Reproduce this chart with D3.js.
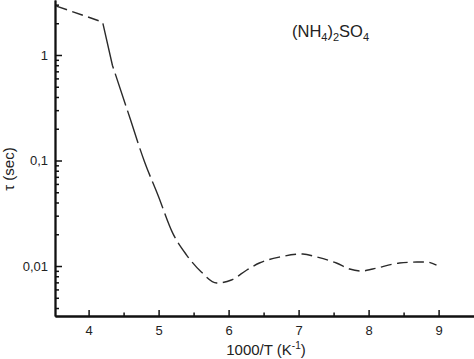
<!DOCTYPE html>
<html><head><meta charset="utf-8">
<script src="https://cdn.jsdelivr.net/npm/d3@7"></script>
<style>
body{margin:0;background:#fff;}
svg{display:block;font-family:"Liberation Sans",Arial,sans-serif;}
</style></head>
<body>
<svg id="c" width="474" height="359"></svg>
<script>
// data
const invT = [3.54, 4.2, 4.34, 4.6, 4.8, 4.99, 5.2, 5.4, 5.61, 5.83, 6.04, 6.26, 6.44, 6.73, 7.06, 7.26, 7.54, 7.73, 7.9, 8.06, 8.44, 8.69, 8.83, 8.97];
const tau  = [2.91, 2.05, 0.80, 0.242, 0.0968, 0.0471, 0.0206, 0.0127, 0.00877, 0.0069, 0.00737, 0.00917, 0.01068, 0.01217, 0.0130, 0.01217, 0.01068, 0.00937, 0.00897, 0.00937, 0.01068, 0.0109, 0.0109, 0.0102];
const xTicks = [4, 5, 6, 7, 8, 9];
const xMinorTicks = [4.5, 5.5, 6.5, 7.5, 8.5];
const yTicks = [0.01, 0.1, 1];
const yTickLabels = ["0,01", "0,1", "1"];
const yMinorTicks = [0.004,0.005,0.006,0.007,0.008,0.009,0.02,0.03,0.04,0.05,0.06,0.07,0.08,0.09,0.2,0.3,0.4,0.5,0.6,0.7,0.8,0.9,2,3];

const svg = d3.select("#c");
const plotLeft = 55, plotTop = 0, plotBottom = 316;
const x = d3.scaleLinear().domain([3.52, 9.5]).range([plotLeft, plotLeft + (9.5 - 3.52) * 70]);
const y = d3.scaleLog().domain([0.00336, 3.32]).range([plotBottom, plotTop]);

// curve: straight segments through the kink and steep drop, smooth afterwards
const pts = invT.map((v, i) => [v, tau[i]]);
const kink = 3;
const headLine = d3.line().x(d => x(d[0])).y(d => y(d[1])).curve(d3.curveLinear);
const tailLine = d3.line().x(d => x(d[0])).y(d => y(d[1])).curve(d3.curveMonotoneX);
const dStr = headLine(pts.slice(0, kink + 1)) + tailLine(pts.slice(kink)).replace(/^M/, "L");
const path = svg.append("path").attr("d", dStr)
  .attr("fill", "none").attr("stroke", "#2a2a2a").attr("stroke-width", 1.4);

// dash pattern: dashes span a fixed horizontal extent, gaps a fixed path length
const node = path.node();
const L = node.getTotalLength();
const dashDx = 10.5, gapLen = 5.5, step = 0.25;
const dashes = [];
let start = 0, on = true, startX = node.getPointAtLength(0).x;
for (let s = step; s <= L; s += step) {
  const p = node.getPointAtLength(s);
  if (on && Math.abs(p.x - startX) >= dashDx) { dashes.push(s - start); start = s; on = false; }
  else if (!on && s - start >= gapLen) { dashes.push(s - start); start = s; startX = p.x; on = true; }
}
dashes.push(L - start + 20);
if (dashes.length % 2 === 1) dashes.push(20);
path.attr("stroke-dasharray", dashes.map(d => d.toFixed(2)).join(","));

// axes
const fmt = d => yTickLabels[yTicks.indexOf(d)];
const yAxis = svg.append("g").attr("transform", `translate(${plotLeft},0)`)
  .call(d3.axisLeft(y).tickValues(yTicks).tickFormat(fmt).tickSizeInner(-7).tickSizeOuter(0).tickPadding(7));
const yMinor = svg.append("g").attr("transform", `translate(${plotLeft},0)`)
  .call(d3.axisLeft(y).tickValues(yMinorTicks).tickFormat("").tickSizeInner(-4).tickSizeOuter(0));
const xAxis = svg.append("g").attr("transform", `translate(0,${plotBottom})`)
  .call(d3.axisBottom(x).tickValues(xTicks).tickFormat(d3.format("d")).tickSizeInner(-6).tickSizeOuter(0).tickPadding(9.5));
const xMinor = svg.append("g").attr("transform", `translate(0,${plotBottom})`)
  .call(d3.axisBottom(x).tickValues(xMinorTicks).tickFormat("").tickSizeInner(-3.5).tickSizeOuter(0));

[yAxis, yMinor, xAxis, xMinor].forEach(g => {
  g.select(".domain").attr("stroke", "#111").attr("stroke-width", 1.8);
  g.selectAll(".tick line").attr("stroke", "#111").attr("stroke-width", 1.5);
  g.selectAll("text").attr("font-size", 13).attr("fill", "#222")
    .attr("font-family", "'Liberation Sans',Arial,sans-serif");
});

// axis titles
const xt = svg.append("text").attr("x", 266).attr("y", 355).attr("text-anchor", "middle")
  .attr("font-size", 15).attr("fill", "#222");
xt.append("tspan").text("1000/T (K");
xt.append("tspan").attr("font-size", 10).attr("dy", -6).text("-1");
xt.append("tspan").attr("dy", 6).text(")");

svg.append("text").attr("transform", "translate(14,169) rotate(-90)").attr("text-anchor", "middle")
  .attr("font-size", 15).attr("fill", "#222").text("τ (sec)");

// compound label
const lab = svg.append("text").attr("x", 292).attr("y", 37).attr("font-size", 16.5).attr("fill", "#222");
lab.append("tspan").text("(NH");
lab.append("tspan").attr("font-size", 11).attr("dy", 4).text("4");
lab.append("tspan").attr("dy", -4).text(")");
lab.append("tspan").attr("font-size", 11).attr("dy", 4).text("2");
lab.append("tspan").attr("dy", -4).text("SO");
lab.append("tspan").attr("font-size", 11).attr("dy", 4).text("4");
</script>
</body></html>
